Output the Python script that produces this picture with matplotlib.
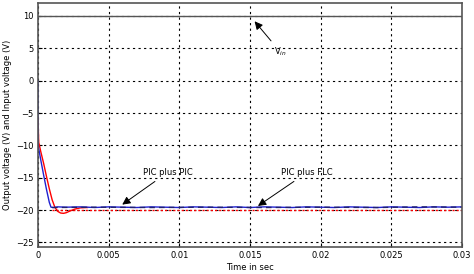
import matplotlib
matplotlib.use("Agg")
import matplotlib.pyplot as plt

# blue trace (PIC plus FLC)
t_blue = [0, 0, 0.00005, 0.0002, 0.0004, 0.0006, 0.0008, 0.00092, 0.0011, 0.0014, 0.002, 0.003,
          0.004, 0.005, 0.006, 0.007, 0.008, 0.009, 0.010, 0.011, 0.012, 0.013, 0.014,
          0.015, 0.016, 0.017, 0.018, 0.019, 0.020, 0.021, 0.022, 0.023, 0.024, 0.025,
          0.026, 0.027, 0.028, 0.029, 0.030]
v_blue = [0, -9.5, -10.5, -12.3, -14.6, -16.8, -18.8, -19.55, -19.6, -19.5, -19.55, -19.5,
          -19.6, -19.5, -19.55, -19.6, -19.5, -19.55, -19.6, -19.5, -19.55, -19.6, -19.5,
          -19.6, -19.5, -19.55, -19.6, -19.5, -19.55, -19.6, -19.5, -19.55, -19.6, -19.5,
          -19.55, -19.6, -19.5, -19.55, -19.5]

# red trace (PIC plus PIC)
t_red = [0, 0.00005, 0.0002, 0.0004, 0.0006, 0.0008, 0.001, 0.0012, 0.0014, 0.0016, 0.0018,
         0.002, 0.0023, 0.0026, 0.003, 0.0035]
v_red = [-5.8, -9.5, -11.0, -12.8, -14.8, -16.7, -18.4, -19.6, -20.2, -20.45, -20.5,
         -20.4, -20.1, -19.85, -19.65, -19.6]

# dashed overlays in steady state
t_ss = [0.001, 0.004, 0.008, 0.012, 0.016, 0.020, 0.024, 0.027, 0.030]
v_dark = [-19.6, -19.55, -19.6, -19.55, -19.6, -19.55, -19.6, -19.5, -19.55]
v_ref = [-19.95, -19.95, -19.95, -19.95, -19.95, -19.95, -19.95, -19.95, -19.95]

# input voltage
t_in = [0, 0.03]
v_in = [10, 10]

xticks = [0, 0.005, 0.01, 0.015, 0.02, 0.025, 0.03]
xtick_labels = ["0", "0.005", "0.01", "0.015", "0.02", "0.025", "0.03"]
yticks = [-25, -20, -15, -10, -5, 0, 5, 10]

fig = plt.figure(figsize=(4.74, 2.74), dpi=100)
ax = fig.add_axes([38 / 474, 1 - 247 / 274, 424 / 474, 244 / 274])

ax.plot(t_in, v_in, color="#555555", lw=1.0)
ax.plot(t_ss, v_ref, color="red", lw=1.0, ls=(0, (1.5, 1.5)))
ax.plot(t_red, v_red, color="red", lw=1.0)
ax.plot(t_blue, v_blue, color="#2020d0", lw=1.0)
ax.plot(t_ss, v_dark, color="#202070", lw=1.0, ls=(0, (4, 3)))

ax.set_xlim(0, 0.03)
ax.set_ylim(-25.7, 12)
ax.set_xticks(xticks)
ax.set_xticklabels(xtick_labels)
ax.set_yticks(yticks)
ax.grid(True, color="black", ls=(0, (2, 3)), lw=0.8)
ax.tick_params(labelsize=6, direction="in", length=3, pad=3)
for s in ax.spines.values():
    s.set_color("#555555")
    s.set_linewidth(1.2)

ax.set_xlabel("Time in sec", fontsize=6, labelpad=2)
ax.set_ylabel("Output voltage (V) and Input voltage (V)", fontsize=6, labelpad=3)

arrow = dict(arrowstyle="-|>", color="black", lw=0.7, mutation_scale=12)
ax.annotate(r"V$_{in}$", xy=(0.0152, 9.5), xytext=(0.0167, 4.0), fontsize=6,
            arrowprops=arrow)
ax.annotate("PIC plus PIC", xy=(0.0058, -19.4), xytext=(0.0074, -14.2), fontsize=6,
            arrowprops=arrow, va="center")
ax.annotate("PIC plus FLC", xy=(0.0154, -19.6), xytext=(0.0172, -14.2), fontsize=6,
            arrowprops=arrow, va="center")

fig.savefig("out.png", dpi=100)
